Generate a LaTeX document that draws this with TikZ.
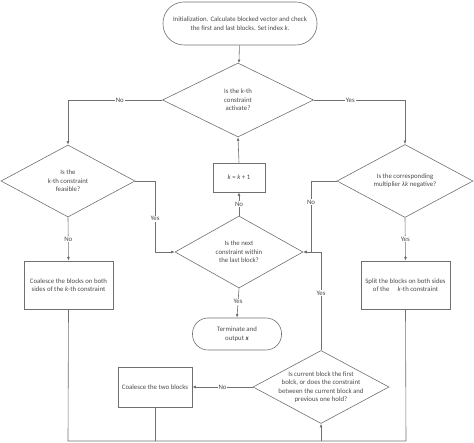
\documentclass[tikz,border=0pt]{standalone}
\usepackage{fontspec}
\setmainfont{Carlito}
\usetikzlibrary{shapes.geometric,arrows.meta}
\definecolor{ln}{HTML}{707070}
\definecolor{tx}{HTML}{4A4A4A}
\tikzset{
  base/.style={draw=ln, line width=0.6pt, text=tx, font=\fontsize{6.8}{8.4}\selectfont, align=center, inner sep=0pt},
  dia/.style={base, diamond, inner xsep=-30pt, inner ysep=-14pt},
  boxn/.style={base, rectangle},
  term/.style={base, rectangle, rounded corners=#1},
  conn/.style={draw=ln, line width=0.6pt},
  arr/.style={conn, -{Latex[length=3.5pt,width=2.8pt]}},
  lab/.style={fill=white, text=tx, font=\fontsize{6.8}{8.4}\selectfont, inner sep=0.8pt},
}
\begin{document}
\begin{tikzpicture}[x=1pt,y=-1pt]
\useasboundingbox (0,0) rectangle (474,443);
\node[term=21pt, minimum width=154, minimum height=43] (init) at (240,23.5) {Initialization. Calculate blocked vector and check\\the first and last blocks. Set index \textit{k}.};
\node[dia, minimum width=151, minimum height=74] (d1) at (238,100) {Is the \textit{k}-th\\constraint\\activate?};
\node[dia, minimum width=134, minimum height=72] (d2) at (68,181) {Is the\\\textit{k}-th constraint\\feasible?};
\node[dia, minimum width=136, minimum height=73] (d3) at (405,181) {Is the corresponding\\multiplier \textit{λk} negative?};
\node[boxn, minimum width=52, minimum height=29] (kb) at (239,177.5) {\textit{k} = \textit{k} + 1};
\node[dia, minimum width=128, minimum height=72] (d4) at (239,252) {Is the next\\constraint within\\the last block?};
\node[boxn, minimum width=89, minimum height=48] (b1) at (68.5,285) {Coalesce the blocks on both\\sides of the \textit{k}-th constraint};
\node[boxn, minimum width=89, minimum height=48] (b3) at (405.5,285) {Split the blocks on both sides\\of the \quad \textit{k}-th constraint};
\node[term=15.5pt, minimum width=89, minimum height=32] (tm) at (237,334) {Terminate and\\output \textbf{\textit{x}}};
\node[dia, minimum width=136, minimum height=73] (d5) at (321,387) {Is current block the first\\bolck, or does the constraint\\between the current block and\\previous one hold?};
\node[boxn, minimum width=74, minimum height=40] (b2) at (155,387) {Coalesce the two blocks};

\coordinate (c1) at (68,100);
\coordinate (c2) at (405,100);
\coordinate (c3) at (155,181);
\coordinate (c4) at (155,252);
\coordinate (c5) at (311,181);
\coordinate (c6) at (311,252);
\coordinate (c7) at (321,252);
\coordinate (bl) at (68,441);
\coordinate (br) at (406,441);
\coordinate (bm) at (155,441);
\coordinate (bd) at (321,441);

\draw[arr] (init) -- (d1);
\draw[arr] (d1.west) -- node[lab, pos=0.45] {No} (c1) -- (d2.north);
\draw[arr] (d1.east) -- node[lab, pos=0.4] {Yes} (c2) -- (d3.north);
\draw[arr] (d2.east) -- (c3) -- node[lab, pos=0.53] {Yes} (c4) -- (d4.west);
\draw[arr] (d2.south) -- node[lab] {No} (b1.north);
\draw[arr] (d3.south) -- node[lab] {Yes} (b3.north);
\draw[arr] (d3.west) -- (c5) -- node[lab, pos=0.3] {No} (c6) -- (d4.east);
\draw[arr] (d4.north) -- node[lab] {No} (kb.south);
\draw[arr] (kb.north) -- (d1.south);
\draw[arr] (d4.south) -- node[lab, pos=0.45] {Yes} (tm.north);
\draw[arr] (d5.north) -- node[lab, pos=0.58] {Yes} (c7) -- (d4.east);
\draw[arr] (d5.west) -- node[lab] {No} (b2.east);
\draw[conn] (b1.south) -- (bl) -- (br) -- (b3.south);
\draw[conn] (b2.south) -- (bm);
\draw[arr] (bd) -- (d5.south);
\end{tikzpicture}
\end{document}
